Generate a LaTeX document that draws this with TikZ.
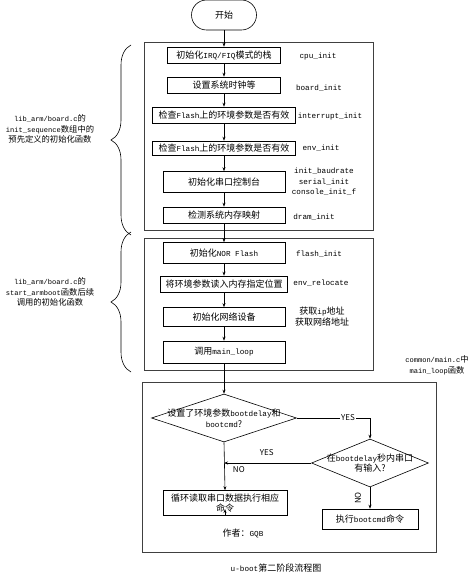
\documentclass[tikz,border=0pt]{standalone}
\usepackage{fontspec}
\setmainfont{Noto Sans CJK SC}
\setmonofont{Liberation Mono}[Scale=0.85]
\usetikzlibrary{
  shapes.geometric,
  decorations.pathreplacing,
  arrows.meta
}

\begin{document}
\begin{tikzpicture}[
  x=1pt, y=-1pt,
  font=\fontsize{9}{10.5}\selectfont,
  >={Stealth[length=4pt,width=3pt]},
  line width=0.6pt,
  procbox/.style={
    draw,
    rectangle,
    minimum height=16pt,
    inner sep=1pt,
    align=center,
  },
  groupbox/.style={draw, rectangle, inner sep=0pt, line width=0.7pt, draw=black!75},
  choice/.style={draw, diamond, inner sep=0pt},
  fnlabel/.style={font=\fontsize{9}{10.5}\selectfont\ttfamily, align=center},
  bracetext/.style={font=\fontsize{8.3}{10.5}\selectfont, align=center},
  smalltext/.style={font=\fontsize{8}{9}\selectfont},
  mybrace/.style={decorate, decoration={brace, amplitude=20pt}, line width=0.6pt},
  ]

  \path[use as bounding box] (0,0) rectangle (474,575);

  % containers
  \node[groupbox, minimum width=229pt, minimum height=188pt] (initseq) at (258.5,136) {};
  \node[groupbox, minimum width=229pt, minimum height=132pt] (armboot) at (258.5,304) {};
  \node[groupbox, minimum width=294pt, minimum height=170pt] (mainloop) at (289,467) {};

  % start
  \node[draw, rectangle, rounded corners=15pt, minimum width=65pt, minimum height=30pt] (start) at (224,15) {开始};

  % init_sequence
  \node[procbox, minimum width=113pt] (irq) at (224,55) {初始化\texttt{IRQ/FIQ}模式的栈};
  \node[procbox, minimum width=113pt] (clock) at (224,85) {设置系统时钟等};
  \node[procbox, minimum width=143pt] (check1) at (224,115) {检查\texttt{Flash}上的环境参数是否有效};
  \node[procbox, minimum width=143pt, minimum height=14pt] (check2) at (224,148) {检查\texttt{Flash}上的环境参数是否有效};
  \node[procbox, minimum width=122pt, minimum height=21pt] (console) at (224,182) {初始化串口控制台};
  \node[procbox, minimum width=122pt] (dram) at (224,215) {检测系统内存映射};

  \node[fnlabel] (cpuinit) at (318,57) {cpu\_init};
  \node[fnlabel] (boardinit) at (319,88) {board\_init};
  \node[fnlabel] (intinit) at (330,117) {interrupt\_init};
  \node[fnlabel] (envinit) at (321,148) {env\_init};
  \node[fnlabel] (uartinit) at (324,182) {init\_baudrate\\serial\_init\\console\_init\_f};
  \node[fnlabel] (draminit) at (314,217) {dram\_init};

  % start_armboot
  \node[procbox, minimum width=122pt, minimum height=21pt] (nor) at (224,253) {初始化\texttt{NOR Flash}};
  \node[procbox, minimum width=127pt] (reloc) at (224,284) {将环境参数读入内存指定位置};
  \node[procbox, minimum width=122pt, minimum height=19pt] (net) at (224,317) {初始化网络设备};
  \node[procbox, minimum width=122pt, minimum height=22pt] (callloop) at (224,352) {调用\texttt{main\_loop}};

  \node[fnlabel] (flashinit) at (319,254) {flash\_init};
  \node[fnlabel] (envreloc) at (321,283) {env\_relocate};
  \node[align=center, font=\fontsize{9}{11}\selectfont] (getip) at (322,317) {获取\texttt{ip}地址\\获取网络地址};

  % main_loop
  \node[bracetext] (loopnote) at (437,365) {\texttt{common/main.c}中\\\texttt{main\_loop}函数};

  \node[choice, minimum width=145pt, minimum height=48pt] (envset) at (224,418) {};
  \node[align=center] (envsettxt) at (224,418) {设置了环境参数\texttt{bootdelay}和\\\texttt{bootcmd}?};

  \node[choice, minimum width=117pt, minimum height=48pt] (keyin) at (370,463) {};
  \node[align=center] (keyintxt) at (370,463) {在\texttt{bootdelay}秒内串口\\有输入?};

  \node[procbox, minimum width=124pt, minimum height=25pt, inner sep=0pt] (cmdloop) at (225,503) {循环读取串口数据执行相应\\命令};
  \node[procbox, minimum width=96pt, minimum height=20pt] (bootcmd) at (370,519) {执行\texttt{bootcmd}命令};

  \node (author) at (243,533) {作者：\texttt{GQB}};
  \node (title) at (276,568) {\texttt{u-boot}第二阶段流程图};

  % connectors
  \draw[->] (start) -- (irq);
  \draw[->] (irq) -- (clock);
  \draw[->] (clock) -- (check1);
  \draw[->] (check1) -- (check2);
  \draw[->] (check2) -- (console);
  \draw[->] (console) -- (dram);
  \draw[->] (dram) -- (nor);
  \draw[->] (nor) -- (reloc);
  \draw[->] (reloc) -- (net);
  \draw[->] (net) -- (callloop);
  \draw[->] (callloop) -- (envset);
  \draw[->] (envset.east) -| node[pos=0.35, fill=white, inner sep=1pt, smalltext] (yes1) {YES} (keyin.north);
  \draw[->] (envset.south) -- (cmdloop.north);
  \draw[->] (keyin.west) -- (envset.south |- keyin.west)
    node[pos=0.51, above=4pt, smalltext] (yes2) {YES}
    node[pos=0.83, below=0pt, smalltext] (no1) {NO};
  \draw[->] (keyin.south) -- (bootcmd.north);
  \node[smalltext, rotate=90] (no2) at (358,498) {NO};
  \coordinate (cmdfoot) at (225,509);
  \draw[->] (cmdloop.south) -- (cmdfoot);

  % braces
  \draw[mybrace] (131,235) -- (131,45);
  \node[bracetext] (seqnote) at (50,129) {\texttt{lib\_arm/board.c}的\\\texttt{init\_sequence}数组中的\\预先定义的初始化函数};
  \draw[mybrace] (131,372) -- (131,232);
  \node[bracetext] (bootnote) at (50,292) {\texttt{lib\_arm/board.c}的\\\texttt{start\_armboot}函数后续\\调用的初始化函数};

\end{tikzpicture}
\end{document}
